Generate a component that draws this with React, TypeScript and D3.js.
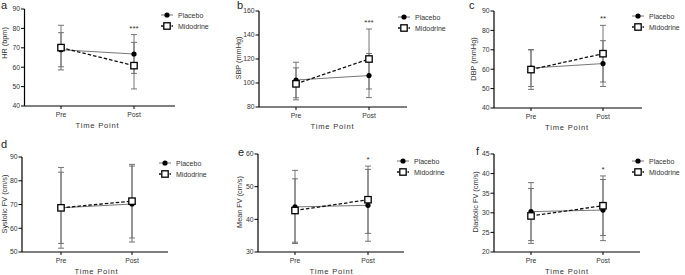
import React from "react";
import * as d3 from "d3";

// ---------- data ----------
const timePoints = ["Pre", "Post"];
const seriesNames = ["Placebo", "Midodrine"];

const hrPlacebo = [69.0, 66.8];
const hrPlaceboSd = [8.8, 10.0];
const hrMidodrine = [70.1, 60.8];
const hrMidodrineSd = [11.5, 12.0];

const sbpPlacebo = [102.5, 106.2];
const sbpPlaceboSd = [14.8, 18.4];
const sbpMidodrine = [99.3, 120.0];
const sbpMidodrineSd = [13.3, 25.0];

const dbpPlacebo = [60.6, 62.9];
const dbpPlaceboSd = [9.5, 11.8];
const dbpMidodrine = [59.8, 68.0];
const dbpMidodrineSd = [10.2, 14.6];

const sysPlacebo = [68.6, 70.2];
const sysPlaceboSd = [15.0, 16.0];
const sysMidodrine = [68.6, 71.4];
const sysMidodrineSd = [17.0, 15.5];

const meanPlacebo = [43.8, 44.3];
const meanPlaceboSd = [11.2, 11.0];
const meanMidodrine = [42.7, 46.0];
const meanMidodrineSd = [9.7, 10.3];

const diaPlacebo = [30.3, 30.7];
const diaPlaceboSd = [7.4, 7.8];
const diaMidodrine = [29.2, 31.8];
const diaMidodrineSd = [7.0, 7.6];

const panelLetters = ["a", "b", "c", "d", "e", "f"];
const yTitles = ["HR (bpm)", "SBP (mmHg)", "DBP (mmHg)", "Systolic FV (cm/s)", "Mean FV (cm/s)", "Diastolic FV (cm/s)"];
const yDomains: [number, number][] = [[40, 90], [80, 160], [40, 90], [50, 90], [30, 60], [20, 45]];
const yTickSteps = [10, 20, 10, 10, 10, 5];
const significance = ["***", "***", "**", "", "*", "*"];
const xTitle = "Time Point";

const placeboMeans = [hrPlacebo, sbpPlacebo, dbpPlacebo, sysPlacebo, meanPlacebo, diaPlacebo];
const placeboSds = [hrPlaceboSd, sbpPlaceboSd, dbpPlaceboSd, sysPlaceboSd, meanPlaceboSd, diaPlaceboSd];
const midodrineMeans = [hrMidodrine, sbpMidodrine, dbpMidodrine, sysMidodrine, meanMidodrine, diaMidodrine];
const midodrineSds = [hrMidodrineSd, sbpMidodrineSd, dbpMidodrineSd, sysMidodrineSd, meanMidodrineSd, diaMidodrineSd];

// ---------- layout ----------
const layouts = [
  { x0: 24.5, x1: 175, top: 9, bottom: 106, pre: 61, post: 134, legX: 167, legY: 15, letX: 1, letY: 9, ylX: 7, ylY: 43 },
  { x0: 259, x1: 407, top: 11, bottom: 107, pre: 296, post: 369, legX: 404, legY: 17, letX: 237, letY: 9, ylX: 241, ylY: 58 },
  { x0: 494, x1: 642, top: 11, bottom: 108, pre: 531, post: 603, legX: 638, legY: 16, letX: 469, letY: 9, ylX: 476, ylY: 59 },
  { x0: 22, x1: 168, top: 157, bottom: 252, pre: 61, post: 132, legX: 165, legY: 163, letX: 1, letY: 148, ylX: 6.5, ylY: 204 },
  { x0: 258, x1: 404, top: 154, bottom: 252, pre: 295, post: 368, legX: 403, legY: 161, letX: 238, letY: 156, ylX: 241.5, ylY: 202 },
  { x0: 494, x1: 640, top: 154, bottom: 252, pre: 531, post: 603, legX: 638, legY: 161, letX: 476, letY: 155, ylX: 477.5, ylY: 202 },
];

const FONT = "'Liberation Sans', Arial, sans-serif";
const GREY = "#666";

function Panel({ i }: { i: number }) {
  const L = layouts[i];
  const [lo, hi] = yDomains[i];
  const y = d3.scaleLinear().domain([lo, hi]).range([L.bottom, L.top]);
  const x = d3.scalePoint<string>().domain(timePoints).range([L.pre, L.post]);
  const ticks = d3.range(lo, hi + 0.001, yTickSteps[i]);

  const series = [
    { name: seriesNames[0], means: placeboMeans[i], sds: placeboSds[i], dash: undefined as string | undefined, lineColor: "#777", lw: 1, filled: true },
    { name: seriesNames[1], means: midodrineMeans[i], sds: midodrineSds[i], dash: "3.5,2", lineColor: "#111", lw: 1.3, filled: false },
  ];

  const line = d3.line<number>().x((_, k) => x(timePoints[k])!).y((v) => y(v));

  const marker = (cx: number, cy: number, filled: boolean, key: string) =>
    filled ? (
      <circle key={key} cx={cx} cy={cy} r={2.6} fill="#000" />
    ) : (
      <rect key={key} x={cx - 3.2} y={cy - 3.2} width={6.4} height={6.4} fill="#fff" stroke="#000" strokeWidth={1.3} />
    );

  const postTop = Math.max(...series.map((s) => s.means[1] + s.sds[1]));

  return (
    <g>
      {/* error bars */}
      {series.map((s, si) =>
        s.means.map((m, k) => {
          const cx = x(timePoints[k])!;
          const y1 = y(m + s.sds[k]);
          const y2 = y(m - s.sds[k]);
          return (
            <g key={`e${si}${k}`} stroke={GREY} strokeWidth={0.9}>
              <line x1={cx} x2={cx} y1={y1} y2={y2} />
              <line x1={cx - 3} x2={cx + 3} y1={y1} y2={y1} />
              <line x1={cx - 3} x2={cx + 3} y1={y2} y2={y2} />
            </g>
          );
        })
      )}
      {/* lines */}
      {series.map((s, si) => (
        <path key={`l${si}`} d={line(s.means) || ""} fill="none" stroke={s.lineColor} strokeWidth={s.lw} strokeDasharray={s.dash} />
      ))}
      {/* markers */}
      {series.map((s, si) => s.means.map((m, k) => marker(x(timePoints[k])!, y(m), s.filled, `m${si}${k}`)))}
      {/* axes */}
      <line x1={L.x0} x2={L.x0} y1={L.top} y2={L.bottom} stroke="#000" strokeWidth={1.2} />
      <line x1={L.x0} x2={L.x1} y1={L.bottom} y2={L.bottom} stroke="#000" strokeWidth={1.2} />
      {ticks.map((t) => (
        <g key={`t${t}`}>
          <line x1={L.x0 - 3.5} x2={L.x0} y1={y(t)} y2={y(t)} stroke="#000" strokeWidth={1} />
          <text x={L.x0 - 4.5} y={y(t) + 2.4} fontSize={6.8} textAnchor="end" fill="#333" fontFamily={FONT}>
            {t}
          </text>
        </g>
      ))}
      {timePoints.map((tp) => (
        <g key={tp}>
          <line x1={x(tp)!} x2={x(tp)!} y1={L.bottom} y2={L.bottom + 3} stroke="#000" strokeWidth={1} />
          <text x={x(tp)!} y={L.bottom + 10.5} fontSize={6.8} textAnchor="middle" fill="#333" fontFamily={FONT}>
            {tp}
          </text>
        </g>
      ))}
      <text
        x={(L.pre + L.post) / 2}
        y={L.bottom + 22}
        fontSize={7.6}
        letterSpacing={0.8}
        textAnchor="middle"
        fill="#333"
        fontFamily={FONT}
      >
        {xTitle}
      </text>
      <text
        transform={`translate(${L.ylX},${L.ylY}) rotate(-90)`}
        fontSize={7.3}
        textAnchor="middle"
        fill="#333"
        fontFamily={FONT}
      >
        {yTitles[i]}
      </text>
      <text x={L.letX} y={L.letY} fontSize={11} fill="#222" fontFamily={FONT}>
        {panelLetters[i]}
      </text>
      {significance[i] && (
        <text x={x(timePoints[1])!} y={y(postTop) - 4} fontSize={8} textAnchor="middle" fill="#333" fontFamily={FONT}>
          {significance[i]}
        </text>
      )}
      {/* legend */}
      {series.map((s, si) => {
        const ly = L.legY + si * 11;
        return (
          <g key={`lg${si}`}>
            <line x1={L.legX - 6} x2={L.legX + 6} y1={ly} y2={ly} stroke={s.lineColor} strokeWidth={s.lw} strokeDasharray={s.dash ? "2,1.5" : undefined} />
            {marker(L.legX, ly, s.filled, `lm${si}`)}
            <text x={L.legX + 11} y={ly + 2.5} fontSize={7} fill="#333" fontFamily={FONT}>
              {s.name}
            </text>
          </g>
        );
      })}
    </g>
  );
}

export default function App() {
  return (
    <svg
      width={685}
      height={275}
      viewBox="0 0 685 275"
      style={{ position: "absolute", left: 0, top: 0, background: "#fff" }}
    >
      <rect width={685} height={275} fill="#fff" />
      {layouts.map((_, i) => (
        <Panel key={i} i={i} />
      ))}
    </svg>
  );
}
